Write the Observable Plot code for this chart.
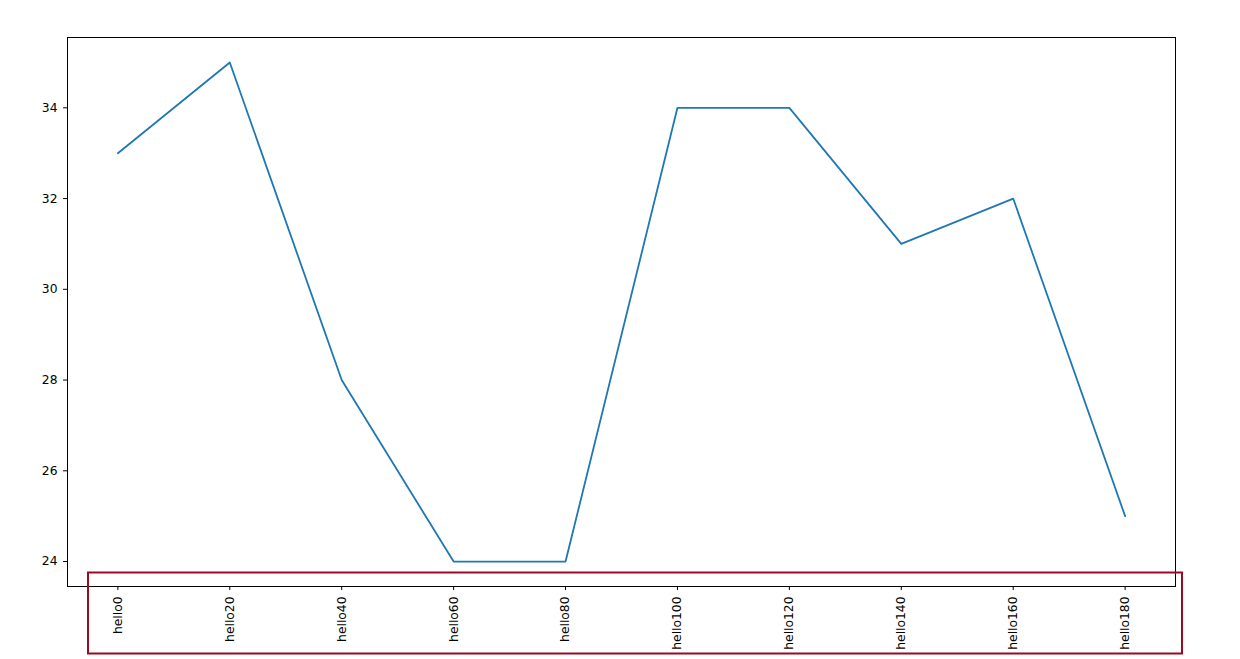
<!DOCTYPE html>
<html>
<head>
<meta charset="utf-8">
<script src="https://cdn.jsdelivr.net/npm/d3@7"></script>
<script src="https://cdn.jsdelivr.net/npm/@observablehq/plot@0.6"></script>
<style>
  html, body { margin: 0; padding: 0; background: #fff; }
  #chart svg { display: block; }
</style>
</head>
<body>
<div id="chart"></div>
<script>
const categories = ["hello0","hello20","hello40","hello60","hello80","hello100","hello120","hello140","hello160","hello180"];
const values = [33, 35, 28, 24, 24, 34, 34, 31, 32, 25];
const yTicks = [24, 26, 28, 30, 32, 34];

const data = categories.map((c, i) => ({cat: c, val: values[i]}));

const chart = Plot.plot({
  width: 1240,
  height: 659,
  marginLeft: 67,
  marginRight: 65,
  marginTop: 37,
  marginBottom: 73,
  style: {fontFamily: "DejaVu Sans", fontSize: "12px", color: "#000", background: "#fff"},
  x: {type: "point", domain: categories, padding: 0.45, round: false, label: null},
  y: {domain: [23.45, 35.55], ticks: yTicks, label: null},
  marks: [
    Plot.axisX({ticks: categories, tickSize: 4, tickPadding: 6, tickRotate: -90, fontSize: 12.3, label: null, stroke: "#000", fill: "#000"}),
    Plot.axisY({ticks: yTicks, tickSize: 4, tickPadding: 6, fontSize: 12.3, label: null, stroke: "#000", fill: "#000"}),
    Plot.line(data, {x: "cat", y: "val", stroke: "#1f77b4", strokeWidth: 1.8}),
    Plot.frame({stroke: "#000", strokeWidth: 1})
  ]
});
document.getElementById("chart").appendChild(chart);

// annotation box around the x tick labels
d3.select(chart).append("rect")
  .attr("x", 88).attr("y", 572.5)
  .attr("width", 1094).attr("height", 81)
  .attr("fill", "none")
  .attr("stroke", "#990a22")
  .attr("stroke-width", 2);
</script>
</body>
</html>
